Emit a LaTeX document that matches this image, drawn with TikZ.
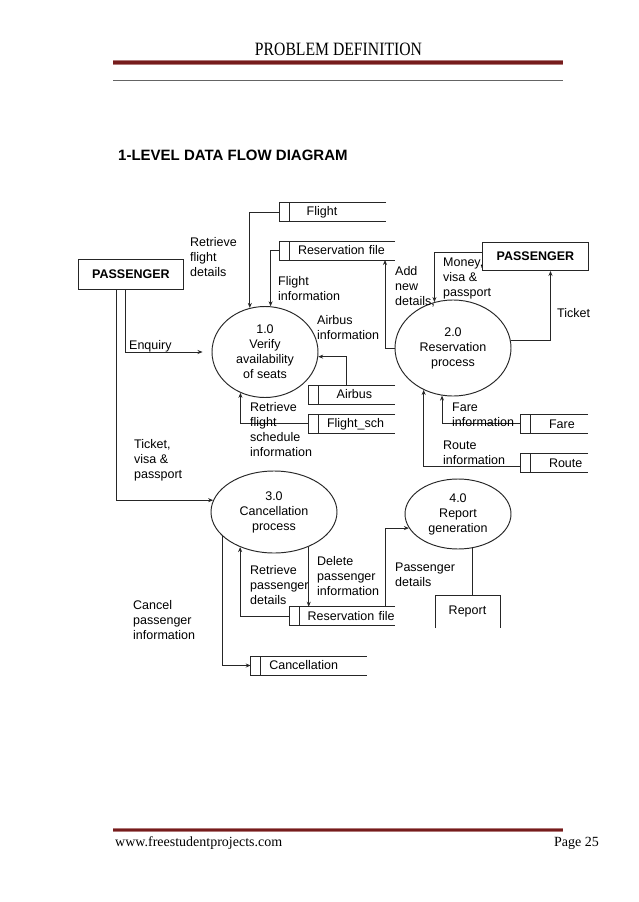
\documentclass[tikz,border=0pt]{standalone}
\usepackage{fontspec}
\setmainfont{Liberation Sans}
\newfontfamily\serifhdr{Liberation Serif}
\usetikzlibrary{shapes.geometric,arrows.meta}
\definecolor{hdrred}{RGB}{118,28,28}
\definecolor{hdrpink}{RGB}{175,120,120}
\definecolor{rulegray}{RGB}{100,100,100}
\newcommand\dsframe[1]{%
  \draw[ln] (#1.north east) -- (#1.north west) -- (#1.south west) -- (#1.south east);
  \draw[ln] ([xshift=9.7pt]#1.north west) -- ([xshift=9.7pt]#1.south west);}
\begin{document}
\begin{tikzpicture}[x=1pt,y=-1pt,
  every node/.style={font=\fontsize{12.5}{15}\selectfont, inner sep=0pt},
  ln/.style={line width=0.95pt, draw=black!85},
  arr/.style={ln, -{Stealth[length=5pt,width=4pt]}},
  proc/.style={ellipse, draw=black!85, line width=0.95pt, align=center, inner sep=0pt},
  ent/.style={rectangle, draw=black!85, line width=0.95pt, anchor=north west,
              font=\fontsize{12.5}{15}\selectfont\bfseries},
  lbl/.style={anchor=west, align=left},
  store/.style={rectangle, anchor=north west, minimum height=19pt, align=left, outer sep=0pt},
]
\fill[white] (0,0) rectangle (638,902);
\useasboundingbox (0,0) rectangle (638,902);

% header and footer
\node[font=\serifhdr\fontsize{15.7}{18}\selectfont] (hdr) at (338.5,49.7) {\scalebox{1}[1.2]{PROBLEM DEFINITION}};
\draw[line width=4.5pt, hdrpink] (113,62.3) -- (563,62.3);
\draw[line width=2.6pt, hdrred] (113,62.3) -- (563,62.3);
\draw[line width=1.2pt, rulegray] (113,80.7) -- (563,80.7);
\draw[line width=4pt, hdrpink] (113,830) -- (563,830);
\draw[line width=2.2pt, hdrred] (113,830) -- (563,830);
\node[anchor=west, font=\serifhdr\fontsize{14}{16}\selectfont] (site) at (115,843) {www.freestudentprojects.com};
\node[anchor=east, font=\serifhdr\fontsize{14}{16}\selectfont] (page) at (599,843) {Page 25};

% title
\node[anchor=west, font=\fontsize{15}{18}\selectfont\bfseries] (title) at (118,155) {1-LEVEL DATA FLOW DIAGRAM};

% entities
\node[ent, minimum width=105pt, minimum height=30pt] (pass1) at (78,259) {PASSENGER};
\node[ent, minimum width=106.6pt, minimum height=28.3pt] (pass2) at (481.7,241.7) {PASSENGER};

% processes
\node[proc, minimum width=106pt, minimum height=91pt] (e1) at (265,352) {1.0\\Verify\\availability\\of seats};
\node[proc, minimum width=116pt, minimum height=96pt] (e2) at (453,348) {2.0\\Reservation\\process};
\node[proc, minimum width=126pt, minimum height=82pt] (e3) at (274,512) {3.0\\Cancellation\\process};
\node[proc, minimum width=106pt, minimum height=70pt] (e4) at (458,514) {4.0\\Report\\generation};

% data stores
\node[store, text width=106.7pt] (sFlight) at (279.3,202.5) {\hspace*{27.4pt}Flight};
\node[store, text width=115.7pt] (sRes1) at (279.3,241) {\hspace*{18.7pt}Reservation file};
\node[store, text width=86.7pt] (sAirbus) at (308.3,385) {\hspace*{28.4pt}Airbus};
\node[store, text width=86.7pt] (sFsch) at (308.3,414.3) {\hspace*{18.7pt}Flight\_sch};
\node[store, text width=67.3pt] (sFare) at (520.7,414.3) {\hspace*{28.3pt}Fare};
\node[store, text width=67.3pt] (sRoute) at (520.7,453.3) {\hspace*{28.3pt}Route};
\node[store, text width=105.7pt] (sRes2) at (289.3,606.7) {\hspace*{18.4pt}Reservation file};
\node[store, text width=116pt] (sCanc) at (250.7,656) {\hspace*{18.6pt}Cancellation};
\dsframe{sFlight}
\dsframe{sRes1}
\dsframe{sAirbus}
\dsframe{sFsch}
\dsframe{sFare}
\dsframe{sRoute}
\dsframe{sRes2}
\dsframe{sCanc}

% report document
\node[rectangle, anchor=north west, minimum width=65pt, minimum height=33pt, outer sep=0pt] (report) at (435,595) {Report};
\draw[ln] (report.south west) -- (report.north west) -- (report.north east) -- (report.south east);

% connectors
\draw[arr] (sFlight.west) -| (e1.109);
\draw[arr] (sRes1.west) -| (e1.83.7);
\draw[arr, shorten >=9pt] ([xshift=-5.5pt]pass1.south) |- (e1.west);
\draw[arr] ([xshift=-5pt]sAirbus.north) |- (e1.-5);
\draw[arr] (sFsch.west) -| (e1.239);
\draw[arr] (e2.west) -| ([xshift=-10pt]sRes1.south east);
\draw[arr] ([yshift=4pt]pass2.west) -| (e2.112.7);
\draw[arr] (e2.7) -| ([xshift=15pt]pass2.south);
\draw[arr] (sFare.west) -| (e2.257.7);
\draw[arr] ([yshift=-4pt]sRoute.west) -| (e2.235.5);
\draw[arr] ([xshift=-14.8pt]pass1.south) |- (e3.169);
\draw[arr] (sRes2.west) -| (e3.226.3);
\draw[arr] (e3.-45) -- (e3.-45 |- sRes2.north);
\draw[arr] (e3.205) |- (sCanc.west);
\draw[arr] ([xshift=-9.3pt]sRes2.north east) |- (e4.196);
\draw[ln] (e4.293) -- (e4.293 |- report.north);

% labels
\node[lbl] (lRfd) at (190,257.3) {Retrieve\\flight\\details};
\node[lbl] (lFi) at (278,289) {Flight\\information};
\node[lbl] (lAi) at (317,327.5) {Airbus\\information};
\node[lbl] (lAnd) at (395,287) {Add\\new\\details,};
\node[lbl] (lMoney) at (443,278.7) {Money,\\visa \&\\passport};
\node[lbl] (lTicket) at (557,313) {Ticket};
\node[lbl] (lEnq) at (129,346.7) {Enquiry};
\node[lbl] (lRfs) at (250,429.7) {Retrieve\\flight\\schedule\\information};
\node[lbl] (lFare) at (452,414.5) {Fare\\information};
\node[lbl] (lRoute) at (443,452.5) {Route\\information};
\node[lbl] (lTvp) at (134,460.7) {Ticket,\\visa \&\\passport};
\node[lbl] (lRpd) at (250,585) {Retrieve\\passenger\\details};
\node[lbl] (lDpi) at (317,576.3) {Delete\\passenger\\information};
\node[lbl] (lPd) at (395,575) {Passenger\\details};
\node[lbl] (lCpi) at (133,620) {Cancel\\passenger\\information};
\end{tikzpicture}
\end{document}
